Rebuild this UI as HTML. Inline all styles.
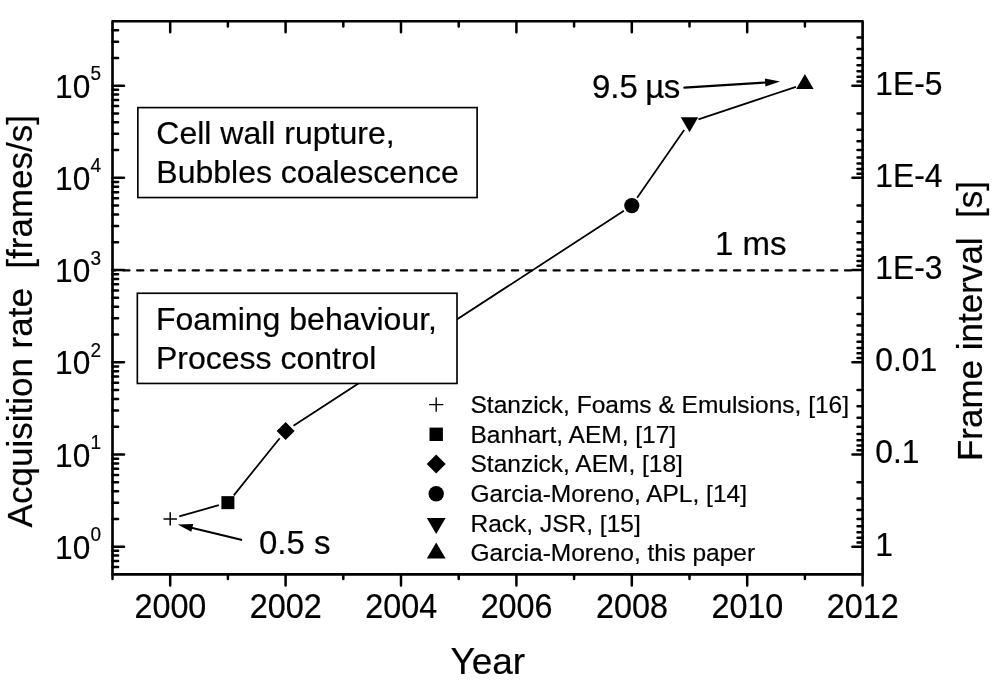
<!DOCTYPE html><html><head><meta charset="utf-8"><style>html,body{margin:0;padding:0;background:#fff;width:1000px;height:684px;overflow:hidden}svg{display:block}text{font-family:"Liberation Sans", Arial, sans-serif;fill:#000;white-space:pre;stroke:#000;stroke-width:0.2px}</style></head><body>
<svg width="1000" height="684" viewBox="0 0 1000 684">
<rect width="1000" height="684" fill="#fff"/>
<line x1="112.5" y1="270.4" x2="852" y2="270.4" stroke="#000" stroke-width="2.1" stroke-linecap="round" stroke-dasharray="6.3 7.58" stroke-dashoffset="3.16"/>
<path d="M179.25 516.34L218.85 505.2M233.79 495.33L279.71 438.23M293.48 425.78L623.92 210.73M637.15 197.87L684.15 130.06M698.42 119.36L795.98 86.85" stroke="#000" stroke-width="1.75" fill="none"/>
<rect x="137.85" y="107.6" width="339.25" height="89.95" fill="#fff" stroke="#000" stroke-width="1.65"/>
<rect x="137.35" y="293.25" width="319.65" height="90.2" fill="#fff" stroke="#000" stroke-width="1.65"/>
<text x="156.3" y="143.8" font-size="32">Cell wall rupture,</text>
<text x="156.3" y="183" font-size="32">Bubbles coalescence</text>
<text x="155.9" y="330" font-size="32">Foaming behaviour,</text>
<text x="155.9" y="369.4" font-size="32">Process control</text>
<path d="M163.5 518.89H176.9M170.2 512.19V525.59" stroke="#000" stroke-width="1.5" fill="none"/>
<rect x="221.4" y="496.15" width="13" height="13" fill="#000"/>
<path d="M285.6 421.91L294.6 430.91L285.6 439.91L276.6 430.91Z" fill="#000"/>
<circle cx="631.8" cy="205.6" r="7.6" fill="#000"/>
<path d="M689.5 132.34L698.2 117.34L680.8 117.34Z" fill="#000"/>
<path d="M804.9 73.88L813.6 88.88L796.2 88.88Z" fill="#000"/>
<line x1="684.4" y1="87.6" x2="767.13" y2="82.41" stroke="#000" stroke-width="2.2" stroke-linecap="round"/><path d="M780.1 81.6L765.38 86.53L764.88 78.55Z" fill="#000"/>
<line x1="241.2" y1="539.8" x2="190.33" y2="527.46" stroke="#000" stroke-width="2.2" stroke-linecap="round"/><path d="M177.7 524.4L193.22 524.05L191.33 531.82Z" fill="#000"/>
<text transform="translate(592 97.6) scale(1 1.02)" font-size="33">9.5 <tspan dx="-1.8">µ</tspan><tspan dx="-0.6">s</tspan></text>
<text transform="translate(258.9 554.2) scale(1 1.02)" font-size="33">0.5 s</text>
<text transform="translate(715 254.5) scale(1 1.02)" font-size="33">1 ms</text>
<path d="M429.1 404.6H443.3M436.2 397.5V411.7" stroke="#000" stroke-width="1.4" fill="none"/>
<text x="470.5" y="412.95" font-size="24.5">Stanzick, Foams &amp; Emulsions, [16]</text>
<rect x="429.5" y="427.6" width="13.4" height="13.4" fill="#000"/>
<text x="470.5" y="442.65" font-size="24.5">Banhart, AEM, [17]</text>
<path d="M436.2 454.5L445.7 464L436.2 473.5L426.7 464Z" fill="#000"/>
<text x="470.5" y="472.35" font-size="24.5">Stanzick, AEM, [18]</text>
<circle cx="436.2" cy="493.7" r="7.7" fill="#000"/>
<text x="470.5" y="502.05" font-size="24.5">Garcia-Moreno, APL, [14]</text>
<path d="M436.2 534.07L445.6 518.07L426.8 518.07Z" fill="#000"/>
<text x="470.5" y="531.75" font-size="24.5">Rack, JSR, [15]</text>
<path d="M436.2 542.43L445.6 558.43L426.8 558.43Z" fill="#000"/>
<text x="470.5" y="561.45" font-size="24.5">Garcia-Moreno, this paper</text>
<path d="M112.5 567.1h5.6M112.5 560.93h5.6M112.5 555.58h5.6M112.5 550.86h5.6M112.5 546.65h11.5M112.5 518.89h5.6M112.5 502.65h5.6M112.5 491.14h5.6M112.5 482.2h5.6M112.5 474.9h5.6M112.5 468.73h5.6M112.5 463.38h5.6M112.5 458.66h5.6M112.5 454.45h11.5M112.5 426.69h5.6M112.5 410.45h5.6M112.5 398.94h5.6M112.5 390h5.6M112.5 382.7h5.6M112.5 376.53h5.6M112.5 371.18h5.6M112.5 366.46h5.6M112.5 362.25h11.5M112.5 334.49h5.6M112.5 318.25h5.6M112.5 306.74h5.6M112.5 297.8h5.6M112.5 290.5h5.6M112.5 284.33h5.6M112.5 278.98h5.6M112.5 274.26h5.6M112.5 270.05h11.5M112.5 242.29h5.6M112.5 226.05h5.6M112.5 214.54h5.6M112.5 205.6h5.6M112.5 198.3h5.6M112.5 192.13h5.6M112.5 186.78h5.6M112.5 182.06h5.6M112.5 177.85h11.5M112.5 150.09h5.6M112.5 133.85h5.6M112.5 122.34h5.6M112.5 113.4h5.6M112.5 106.1h5.6M112.5 99.93h5.6M112.5 94.58h5.6M112.5 89.86h5.6M112.5 85.65h11.5M112.5 57.89h5.6M112.5 41.65h5.6M112.5 30.14h5.6M862.6 37.44h-5.1M862.6 48.95h-5.1M862.6 57.89h-5.1M862.6 65.19h-5.1M862.6 71.36h-5.1M862.6 76.71h-5.1M862.6 81.43h-5.1M862.6 85.65h-10.2M862.6 113.4h-5.1M862.6 129.64h-5.1M862.6 141.15h-5.1M862.6 150.09h-5.1M862.6 157.39h-5.1M862.6 163.56h-5.1M862.6 168.91h-5.1M862.6 173.63h-5.1M862.6 177.85h-10.2M862.6 205.6h-5.1M862.6 221.84h-5.1M862.6 233.35h-5.1M862.6 242.29h-5.1M862.6 249.59h-5.1M862.6 255.76h-5.1M862.6 261.11h-5.1M862.6 265.83h-5.1M862.6 270.05h-10.2M862.6 297.8h-5.1M862.6 314.04h-5.1M862.6 325.55h-5.1M862.6 334.49h-5.1M862.6 341.79h-5.1M862.6 347.96h-5.1M862.6 353.31h-5.1M862.6 358.03h-5.1M862.6 362.25h-10.2M862.6 390h-5.1M862.6 406.24h-5.1M862.6 417.75h-5.1M862.6 426.69h-5.1M862.6 433.99h-5.1M862.6 440.16h-5.1M862.6 445.51h-5.1M862.6 450.23h-5.1M862.6 454.45h-10.2M862.6 482.2h-5.1M862.6 498.44h-5.1M862.6 509.95h-5.1M862.6 518.89h-5.1M862.6 526.19h-5.1M862.6 532.36h-5.1M862.6 537.71h-5.1M862.6 542.43h-5.1M862.6 546.65h-10.2M112.5 574.4v4.6M170.2 574.4v11.2M170.2 21.2v11.1M227.9 574.4v4.6M227.9 21.2v5.4M285.6 574.4v11.2M285.6 21.2v11.1M343.3 574.4v4.6M343.3 21.2v5.4M401 574.4v11.2M401 21.2v11.1M458.7 574.4v4.6M458.7 21.2v5.4M516.4 574.4v11.2M516.4 21.2v11.1M574.1 574.4v4.6M574.1 21.2v5.4M631.8 574.4v11.2M631.8 21.2v11.1M689.5 574.4v4.6M689.5 21.2v5.4M747.2 574.4v11.2M747.2 21.2v11.1M804.9 574.4v4.6M804.9 21.2v5.4M862.6 574.4v11.2" stroke="#000" stroke-width="2.5" stroke-linecap="round" fill="none"/>
<rect x="112.5" y="21.2" width="750.1" height="553.2" fill="none" stroke="#000" stroke-width="2.65" stroke-linejoin="round"/>
<text transform="translate(170.4 618.2) scale(0.98 1.05)" font-size="33" text-anchor="middle">2000</text>
<text transform="translate(285.8 618.2) scale(0.98 1.05)" font-size="33" text-anchor="middle">2002</text>
<text transform="translate(401.2 618.2) scale(0.98 1.05)" font-size="33" text-anchor="middle">2004</text>
<text transform="translate(516.6 618.2) scale(0.98 1.05)" font-size="33" text-anchor="middle">2006</text>
<text transform="translate(632 618.2) scale(0.98 1.05)" font-size="33" text-anchor="middle">2008</text>
<text transform="translate(747.4 618.2) scale(0.98 1.05)" font-size="33" text-anchor="middle">2010</text>
<text transform="translate(862.8 618.2) scale(0.98 1.05)" font-size="33" text-anchor="middle">2012</text>
<text transform="translate(90.3 558.8) scale(0.96 1.03)" font-size="33" text-anchor="end">10</text>
<text transform="translate(90.5 541.15) scale(1 1.03)" font-size="19">0</text>
<text transform="translate(90.3 466.6) scale(0.96 1.03)" font-size="33" text-anchor="end">10</text>
<text transform="translate(90.5 448.95) scale(1 1.03)" font-size="19">1</text>
<text transform="translate(90.3 374.4) scale(0.96 1.03)" font-size="33" text-anchor="end">10</text>
<text transform="translate(90.5 356.75) scale(1 1.03)" font-size="19">2</text>
<text transform="translate(90.3 282.2) scale(0.96 1.03)" font-size="33" text-anchor="end">10</text>
<text transform="translate(90.5 264.55) scale(1 1.03)" font-size="19">3</text>
<text transform="translate(90.3 190) scale(0.96 1.03)" font-size="33" text-anchor="end">10</text>
<text transform="translate(90.5 172.35) scale(1 1.03)" font-size="19">4</text>
<text transform="translate(90.3 97.8) scale(0.96 1.03)" font-size="33" text-anchor="end">10</text>
<text transform="translate(90.5 80.15) scale(1 1.03)" font-size="19">5</text>
<text transform="translate(875.2 94.55) scale(0.965 1.03)" font-size="33">1E-5</text>
<text transform="translate(875.2 186.75) scale(0.965 1.03)" font-size="33">1E-4</text>
<text transform="translate(875.2 278.95) scale(0.965 1.03)" font-size="33">1E-3</text>
<text transform="translate(875.2 371.15) scale(0.965 1.03)" font-size="33">0.01</text>
<text transform="translate(875.2 463.35) scale(0.965 1.03)" font-size="33">0.1</text>
<text transform="translate(875.2 555.55) scale(0.965 1.03)" font-size="33">1</text>
<text transform="translate(32.2 321.2) rotate(-90)" font-size="35" text-anchor="middle">Acquisition rate  [frames/s]</text>
<text transform="translate(982.4 321) rotate(-90)" font-size="35" text-anchor="middle">Frame interval  [s]</text>
<text x="487.8" y="674.3" font-size="37" text-anchor="middle">Year</text>
</svg></body></html>
